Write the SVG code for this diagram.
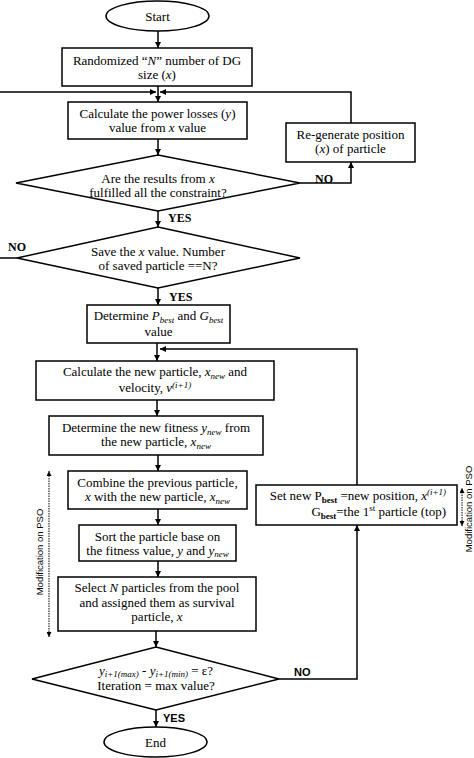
<svg xmlns="http://www.w3.org/2000/svg" width="474" height="758" viewBox="0 0 474 758">
<defs>
<marker id="ah" viewBox="0 0 10 10" refX="10" refY="5" markerWidth="6" markerHeight="6" markerUnits="userSpaceOnUse" orient="auto-start-reverse">
<path d="M0,0 L10,5 L0,10 z" fill="#000"/>
</marker>
<marker id="sh" viewBox="0 0 10 10" refX="10" refY="5" markerWidth="5" markerHeight="5" markerUnits="userSpaceOnUse" orient="auto-start-reverse">
<path d="M0,0 L10,5 L0,10 z" fill="#000"/>
</marker>
<style>
.n{fill:#fff;stroke:#000;stroke-width:1.5}
.t{font-family:"Liberation Serif","Times New Roman",serif;font-size:13px;fill:#000;text-anchor:middle}
.c{fill:none;stroke:#000;stroke-width:1.5}
.a{marker-end:url(#ah)}
.lb{font-family:"Liberation Serif","Times New Roman",serif;font-size:12px;font-weight:bold;fill:#000}
.ls{font-family:"Liberation Sans",Arial,sans-serif;font-size:11px;font-weight:bold;fill:#000}
.m{font-family:"Liberation Sans",Arial,sans-serif;font-size:9.5px;fill:#000;text-anchor:middle}
.d{fill:none;stroke:#000;stroke-width:1;stroke-dasharray:1.5 1;marker-start:url(#sh);marker-end:url(#sh)}
.i{font-style:italic}
.s{font-size:9px}
</style>
</defs>

<g id="connectors">
<line class="c a" x1="158" y1="31" x2="158" y2="48"/>
<line class="c a" x1="158" y1="86" x2="158" y2="102"/>
<polyline class="c a" points="17,258 -1,258 -1,92 156,92"/>
<polyline class="c a" points="351,123 351,92 160,92"/>
<line class="c a" x1="158" y1="139" x2="158" y2="155"/>
<polyline class="c a" points="300,183 351,183 351,162"/>
<line class="c a" x1="158" y1="211" x2="158" y2="227"/>
<line class="c a" x1="158" y1="288" x2="158" y2="305"/>
<line class="c a" x1="157" y1="343" x2="157" y2="361"/>
<polyline class="c a" points="357,485 357,349 160,349"/>
<line class="c a" x1="157" y1="400" x2="157" y2="416"/>
<line class="c a" x1="158" y1="455" x2="158" y2="471"/>
<line class="c a" x1="158" y1="509" x2="158" y2="525"/>
<line class="c a" x1="158" y1="561" x2="158" y2="577"/>
<line class="c a" x1="156" y1="631" x2="156" y2="647"/>
<polyline class="c a" points="279,679 357,679 357,525"/>
<line class="c a" x1="156" y1="710" x2="156" y2="727"/>
<text class="lb" x="315" y="183">NO</text>
<text class="lb" x="168" y="222">YES</text>
<text class="lb" x="8" y="251">NO</text>
<text class="lb" x="169" y="301">YES</text>
<text class="ls" x="294" y="676">NO</text>
<text class="ls" x="163" y="722">YES</text>
</g>

<g id="start">
<ellipse class="n" cx="157.5" cy="16" rx="51.5" ry="15"/>
<text class="t" x="157.5" y="20.5">Start</text>
</g>

<g id="randomize">
<rect class="n" x="62" y="48" width="190" height="38"/>
<text class="t" x="157" y="65">Randomized “<tspan class="i">N</tspan>” number of DG</text>
<text class="t" x="157" y="79">size (<tspan class="i">x</tspan>)</text>
</g>

<g id="power-losses">
<rect class="n" x="68" y="102" width="179" height="37"/>
<text class="t" x="157.5" y="117.5">Calculate the power losses (<tspan class="i">y</tspan>)</text>
<text class="t" x="157.5" y="131.5">value from <tspan class="i">x</tspan> value</text>
</g>

<g id="regenerate">
<rect class="n" x="286" y="123" width="129" height="39"/>
<text class="t" x="350.5" y="139">Re-generate position</text>
<text class="t" x="350.5" y="153">(<tspan class="i">x</tspan>) of particle</text>
</g>

<g id="constraint">
<polygon class="n" points="158,155 300,183 158,211 16,183"/>
<text class="t" x="158" y="183">Are the results from <tspan class="i">x</tspan></text>
<text class="t" x="158" y="197">fulfilled all the constraint?</text>
</g>

<g id="save">
<polygon class="n" points="158,227 300,258 158,288 17,258"/>
<text class="t" x="158" y="256">Save the <tspan class="i">x</tspan> value. Number</text>
<text class="t" x="158" y="270">of saved particle ==N?</text>
</g>

<g id="pbest">
<rect class="n" x="87" y="305" width="143" height="38"/>
<text class="t" x="158.5" y="320">Determine <tspan class="i">P</tspan><tspan class="i s" dy="2.5">best</tspan><tspan dy="-2.5"> and </tspan><tspan class="i">G</tspan><tspan class="i s" dy="2.5">best</tspan></text>
<text class="t" x="158.5" y="336">value</text>
</g>

<g id="new-particle">
<rect class="n" x="36" y="361" width="238" height="39"/>
<text class="t" x="155" y="376">Calculate the new particle, <tspan class="i">x</tspan><tspan class="i s" dy="2.5">new</tspan><tspan dy="-2.5"> and</tspan></text>
<text class="t" x="155" y="392">velocity, <tspan class="i">v</tspan><tspan class="i s" dy="-4">(i+1)</tspan></text>
</g>

<g id="fitness">
<rect class="n" x="49" y="416" width="214" height="39"/>
<text class="t" x="156" y="432">Determine the new fitness <tspan class="i">y</tspan><tspan class="i s" dy="2.5">new</tspan><tspan dy="-2.5"> from</tspan></text>
<text class="t" x="156" y="446">the new particle, <tspan class="i">x</tspan><tspan class="i s" dy="2.5">new</tspan></text>
</g>

<g id="combine">
<rect class="n" x="68" y="471" width="179" height="38"/>
<text class="t" x="157.5" y="486.5">Combine the previous particle,</text>
<text class="t" x="157.5" y="501"><tspan class="i">x</tspan> with the new particle, <tspan class="i">x</tspan><tspan class="i s" dy="2.5">new</tspan></text>
</g>

<g id="sort">
<rect class="n" x="79" y="525" width="157" height="36"/>
<text class="t" x="157.5" y="541">Sort the particle base on</text>
<text class="t" x="157.5" y="554.5">the fitness value, <tspan class="i">y</tspan> and <tspan class="i">y</tspan><tspan class="i s" dy="2.5">new</tspan></text>
</g>

<g id="select">
<rect class="n" x="58" y="577" width="198" height="54"/>
<text class="t" x="157" y="592">Select <tspan class="i">N</tspan> particles from the pool</text>
<text class="t" x="157" y="606.5">and assigned them as survival</text>
<text class="t" x="157" y="620.5">particle, <tspan class="i">x</tspan></text>
</g>

<g id="termination">
<polygon class="n" points="156,647 279,679 156,710 32,679"/>
<text class="t" x="156" y="675"><tspan class="i">y</tspan><tspan class="i s" dy="2">i+1(max)</tspan><tspan dy="-2"> - </tspan><tspan class="i">y</tspan><tspan class="i s" dy="2">i+1(min)</tspan><tspan dy="-2"> = ε?</tspan></text>
<text class="t" x="156" y="690">Iteration = max value?</text>
</g>

<g id="set-new">
<rect class="n" x="256" y="485" width="201" height="40"/>
<text class="t" x="446" y="500" style="text-anchor:end">Set new P<tspan class="s" font-weight="bold" dy="3">best</tspan><tspan dy="-3"> =new position, </tspan><tspan class="i">x</tspan><tspan class="i s" dy="-5">(i+1)</tspan></text>
<text class="t" x="446" y="516" style="text-anchor:end">G<tspan class="s" font-weight="bold" dy="3">best</tspan><tspan dy="-3">=the 1</tspan><tspan class="s" dy="-5">st</tspan><tspan dy="5"> particle (top)</tspan></text>
</g>

<g id="end">
<ellipse class="n" cx="155.5" cy="742" rx="51.5" ry="15"/>
<text class="t" x="155.5" y="746.5">End</text>
</g>

<g id="modification-left">
<line class="d" x1="49" y1="637" x2="49" y2="471"/>
<text class="m" transform="translate(43,552) rotate(-90)">Modification on PSO</text>
</g>

<g id="modification-right">
<line class="d" x1="462" y1="526" x2="462" y2="488"/>
<text class="m" transform="translate(472,509) rotate(-90)">Modification on PSO</text>
</g>
</svg>
